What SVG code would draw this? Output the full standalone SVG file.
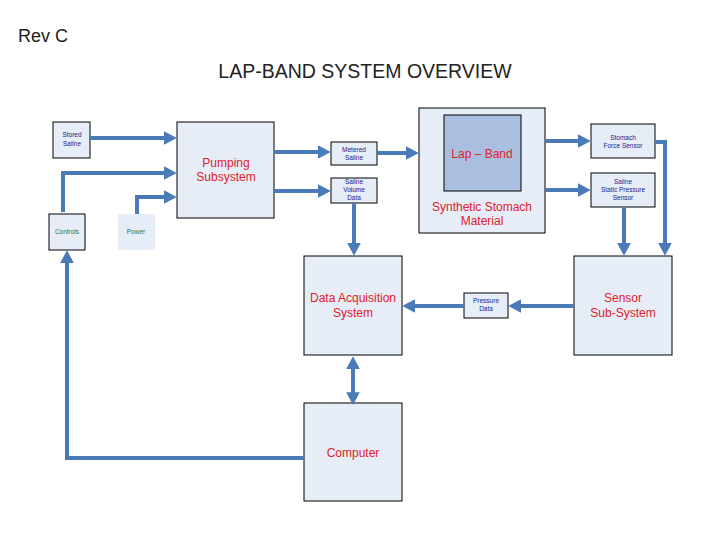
<svg xmlns="http://www.w3.org/2000/svg" width="720" height="540" viewBox="0 0 720 540">
<style>
.b{fill:#e6edf7;stroke:#000;stroke-width:1}
.t{font-family:"Liberation Sans",Arial,sans-serif;text-anchor:middle}
.r{fill:#e0202a;font-size:12px}
.s{fill:#1a1a8c;font-size:6.5px}
.c{fill:none;stroke:#4a7ab8;stroke-width:4;marker-end:url(#a)}
</style>
<defs><marker id="a" markerWidth="4" markerHeight="4" refX="2" refY="2" orient="auto" markerUnits="strokeWidth"><path d="M0,0.3 L3.2,2 L0,3.7Z" fill="#4a7ab8"/></marker>
<marker id="s" markerWidth="4" markerHeight="4" refX="1.2" refY="2" orient="auto-start-reverse" markerUnits="strokeWidth"><path d="M0,0.3 L3.2,2 L0,3.7Z" fill="#4a7ab8"/></marker></defs>
<rect width="720" height="540" fill="#fff"/>
<text x="18" y="42" font-family="Liberation Sans,Arial,sans-serif" font-size="18" fill="#222">Rev C</text>
<text x="365" y="78" class="t" font-size="19.5" fill="#222">LAP-BAND SYSTEM OVERVIEW</text>
<g id="stored"><rect x="53" y="122" width="37" height="36" class="b"/><text class="t s" x="72" y="137">Stored</text><text class="t s" x="72" y="146">Saline</text></g>
<g id="controls"><rect x="49" y="214" width="36" height="36" class="b"/><text class="t" x="67" y="234" font-size="6.5" fill="#2a7a3a">Controls</text></g>
<g id="power"><rect x="118" y="214" width="37" height="36" fill="#e6edf7"/><text class="t" x="136" y="234" font-size="6.5" fill="#2a7a3a">Power</text></g>
<g id="pumping"><rect x="177" y="122" width="97" height="96" class="b"/><text class="t r" x="226" y="167">Pumping</text><text class="t r" x="226" y="181">Subsystem</text></g>
<g id="metered"><rect x="331" y="142" width="46" height="23" class="b"/><text class="t s" x="354" y="152">Metered</text><text class="t s" x="354" y="160">Saline</text></g>
<g id="volume"><rect x="331" y="178" width="46" height="25" class="b"/><text class="t s" x="354" y="184">Saline</text><text class="t s" x="354" y="192">Volume</text><text class="t s" x="354" y="200">Data</text></g>
<g id="synthetic"><rect x="419" y="108" width="126" height="125" class="b"/><rect x="444" y="115" width="77" height="76" fill="#aabfdf" stroke="#000"/><text class="t r" x="482" y="158">Lap – Band</text><text class="t r" x="482" y="211">Synthetic Stomach</text><text class="t r" x="482" y="225">Material</text></g>
<g id="force"><rect x="591" y="124" width="64" height="34" class="b"/><text class="t s" x="623" y="140">Stomach</text><text class="t s" x="623" y="148">Force Sensor</text></g>
<g id="pressure"><rect x="591" y="173" width="64" height="34" class="b"/><text class="t s" x="623" y="184">Saline</text><text class="t s" x="623" y="192">Static Pressure</text><text class="t s" x="623" y="200">Sensor</text></g>
<g id="daq"><rect x="304" y="256" width="98" height="99" class="b"/><text class="t r" x="353" y="302">Data Acquisition</text><text class="t r" x="353" y="317">System</text></g>
<g id="sensor"><rect x="574" y="256" width="98" height="99" class="b"/><text class="t r" x="623" y="302">Sensor</text><text class="t r" x="623" y="317">Sub-System</text></g>
<g id="pdata"><rect x="464" y="293" width="44" height="25" class="b"/><text class="t s" x="486" y="303">Pressure</text><text class="t s" x="486" y="311">Data</text></g>
<g id="computer"><rect x="304" y="403" width="98" height="98" class="b"/><text class="t r" x="353" y="457">Computer</text></g>
<g id="connectors">
<path class="c" d="M90,138 H172"/>
<path class="c" d="M63,212 V173 H172"/>
<path class="c" d="M137,214 V197 H172"/>
<path class="c" d="M274,152 H326"/>
<path class="c" d="M274,191 H326"/>
<path class="c" d="M377,153 H414"/>
<path class="c" d="M354,203 V251"/>
<path class="c" d="M545,141 H586"/>
<path class="c" d="M545,190 H586"/>
<path class="c" d="M655,142 H665 V251"/>
<path class="c" d="M624,207 V251"/>
<path class="c" d="M574,306 H513"/>
<path class="c" d="M464,306 H407"/>
<path class="c" d="M353,397 V361" marker-start="url(#s)"/>
<path class="c" d="M304,458 H67 V255"/>
</g>
</svg>
